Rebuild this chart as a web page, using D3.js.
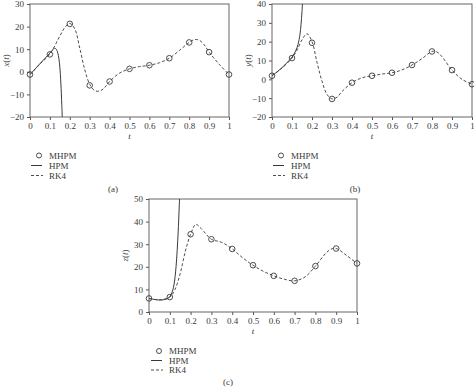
<!DOCTYPE html>
<html><head><meta charset="utf-8">
<script src="https://cdn.jsdelivr.net/npm/d3@7"></script>
<style>
html,body{margin:0;padding:0;background:#fff;}
svg{display:block;font-family:"Liberation Serif","DejaVu Serif",serif;}
</style></head>
<body><svg id="c" width="474" height="390"></svg>
<script>
const tTicks = [0,0.1,0.2,0.3,0.4,0.5,0.6,0.7,0.8,0.9,1];
const tTickLabels = ["0","0.1","0.2","0.3","0.4","0.5","0.6","0.7","0.8","0.9","1"];
const mhpmT = [0,0.1,0.2,0.3,0.4,0.5,0.6,0.7,0.8,0.9,1];

// panel (a) x(t)
const xMHPM = [-1.2,7.7,21.2,-6.0,-4.3,1.3,2.9,6.0,13.0,8.7,-1.2];
const xRK4T = [0,0.05,0.1,0.15,0.175,0.2,0.225,0.25,0.275,0.3,0.325,0.35,0.375,0.4,0.45,0.5,0.55,0.6,0.65,0.7,0.75,0.8,0.825,0.85,0.875,0.9,0.95,1];
const xRK4  = [-1.2,3.4,7.9,15.8,19.6,21.4,19.0,10.5,1.0,-5.5,-8.3,-8.5,-7.0,-4.3,-0.6,1.3,2.3,2.9,4.0,6.0,9.4,13.0,14.2,14.0,12.0,8.7,3.4,-1.2];
const xHPMT = [0,0.05,0.1,0.11,0.12,0.125,0.13,0.135,0.14,0.145,0.15,0.155,0.16,0.165];
const xHPM  = [-1.2,3.6,8.3,9.4,10.2,10.4,10.2,9.5,8.2,6.0,2.0,-5.0,-15.0,-28.0];

// panel (b) y(t)
const yMHPM = [1.9,11.3,19.4,-10.4,-1.8,1.9,3.5,7.6,14.8,4.9,-2.6];
const yRK4T = [0,0.05,0.1,0.125,0.15,0.175,0.2,0.225,0.25,0.275,0.3,0.325,0.35,0.4,0.45,0.5,0.55,0.6,0.65,0.7,0.75,0.8,0.825,0.85,0.9,0.95,1];
const yRK4  = [1.9,6.0,11.3,15.5,21.0,24.2,20.0,9.0,-1.0,-8.0,-10.4,-9.5,-6.5,-1.8,0.8,1.9,2.8,3.5,5.0,7.6,11.0,14.8,14.5,12.0,4.9,0.0,-2.6];
const yHPMT = [0,0.05,0.1,0.11,0.12,0.13,0.14,0.145,0.15,0.155];
const yHPM  = [1.9,6.2,11.8,13.5,15.5,18.5,24.0,29.0,36.0,45.0];

// panel (c) z(t)
const zMHPM = [6.0,6.6,34.4,32.2,27.9,20.7,16.0,13.8,20.3,28.1,21.5];
const zRK4T = [0,0.05,0.1,0.125,0.15,0.175,0.2,0.225,0.25,0.3,0.35,0.4,0.45,0.5,0.55,0.6,0.65,0.7,0.75,0.8,0.85,0.875,0.9,0.95,1];
const zRK4  = [6.0,5.4,6.6,10.0,17.0,27.0,34.4,38.8,37.0,32.2,30.8,27.9,24.0,20.7,18.0,16.0,14.5,13.8,15.5,20.3,26.0,27.8,28.1,25.0,21.5];
const zHPMT = [0,0.03,0.06,0.09,0.1,0.11,0.12,0.13,0.14,0.145,0.15];
const zHPM  = [6.0,5.5,5.3,6.0,6.8,8.5,12.0,20.0,35.0,46.0,56.0];

const legendNames = ["MHPM","HPM","RK4"];
const panelTags = ["(a)","(b)","(c)"];

const svg = d3.select("#c");
const ink = "#3a3a3a";
const fontSize = 9;

function panel(cfg){
  const {x0,x1,y0,y1,yDomain,yTicks,ylab,mT,mV,rT,rV,hT,hV,leg,tag,id} = cfg;
  const xs = d3.scaleLinear().domain([0,1]).range([x0,x1]);
  const ys = d3.scaleLinear().domain(yDomain).range([y1,y0]);
  const g = svg.append("g");
  g.append("clipPath").attr("id","clip"+id).append("rect")
    .attr("x",x0).attr("y",y0).attr("width",x1-x0).attr("height",y1-y0);

  const xAxis = d3.axisBottom(xs).tickValues(tTicks).tickFormat((d,i)=>tTickLabels[i]).tickSize(3).tickPadding(3);
  const yAxis = d3.axisLeft(ys).tickValues(yTicks).tickFormat(d=> d<0 ? "\u2212"+Math.abs(d) : d).tickSize(3).tickPadding(3);
  const gx = g.append("g").attr("transform",`translate(0,${y1})`).call(xAxis);
  const gy = g.append("g").attr("transform",`translate(${x0},0)`).call(yAxis);
  [gx,gy].forEach(a=>{
    a.select(".domain").remove();
    a.selectAll("line").attr("stroke","#555");
    a.selectAll("text").attr("fill",ink).style("font-size",fontSize+"px").style("font-family","Liberation Serif, serif");
  });
  g.append("rect").attr("x",x0).attr("y",y0).attr("width",x1-x0).attr("height",y1-y0)
    .attr("fill","none").attr("stroke","#666").attr("stroke-width",1);

  const line = d3.line().x(d=>xs(d[0])).y(d=>ys(d[1])).curve(d3.curveCatmullRom.alpha(0.5));
  const rk = rT.map((t,i)=>[t,rV[i]]);
  const hp = hT.map((t,i)=>[t,hV[i]]);
  g.append("path").attr("d",line(hp)).attr("fill","none").attr("stroke",ink).attr("stroke-width",1)
    .attr("clip-path",`url(#clip${id})`);
  g.append("path").attr("d",line(rk)).attr("fill","none").attr("stroke",ink).attr("stroke-width",0.9)
    .attr("stroke-dasharray","3,2").attr("clip-path",`url(#clip${id})`);
  g.selectAll("circle.m").data(mT.map((t,i)=>[t,mV[i]])).join("circle")
    .attr("cx",d=>xs(d[0])).attr("cy",d=>ys(d[1])).attr("r",2.8)
    .attr("fill","none").attr("stroke",ink).attr("stroke-width",0.9);

  // axis labels
  g.append("text").attr("x",(x0+x1)/2).attr("y",y1+22).attr("text-anchor","middle")
    .style("font-size","9px").style("font-style","italic").attr("fill",ink).text("t");
  const yl = g.append("text").attr("transform",`translate(${x0-21},${(y0+y1)/2}) rotate(-90)`)
    .attr("text-anchor","middle").style("font-size","9px").attr("fill",ink);
  yl.append("tspan").style("font-style","italic").text(ylab);
  yl.append("tspan").text("(");
  yl.append("tspan").style("font-style","italic").text("t");
  yl.append("tspan").text(")");

  // legend
  const [lx,ly,dy] = leg;
  const lg = g.append("g").attr("transform",`translate(${lx},${ly})`);
  lg.append("circle").attr("cx",9).attr("cy",0).attr("r",2.5).attr("fill","none").attr("stroke",ink).attr("stroke-width",0.9);
  lg.append("line").attr("x1",1).attr("x2",12).attr("y1",dy).attr("y2",dy).attr("stroke",ink).attr("stroke-width",1);
  lg.append("line").attr("x1",1).attr("x2",13).attr("y1",2*dy).attr("y2",2*dy).attr("stroke",ink).attr("stroke-width",0.9).attr("stroke-dasharray","3,2");
  legendNames.forEach((n,i)=>{
    lg.append("text").attr("x",19).attr("y",i*dy+3).style("font-size","9px").attr("fill",ink).text(n);
  });
  g.append("text").attr("x",tag[0]).attr("y",tag[1]).attr("text-anchor","middle").style("font-size","9px").attr("fill",ink).text(panelTags[id]);
}

panel({id:0,x0:30,x1:229,y0:4,y1:117,yDomain:[-20,30],yTicks:[-20,-10,0,10,20,30],ylab:"x",
  mT:mhpmT,mV:xMHPM,rT:xRK4T,rV:xRK4,hT:xHPMT,hV:xHPM,leg:[30,155.5,10],tag:[113,192]});
panel({id:1,x0:272,x1:472,y0:4,y1:117,yDomain:[-20,40],yTicks:[-20,-10,0,10,20,30,40],ylab:"y",
  mT:mhpmT,mV:yMHPM,rT:yRK4T,rV:yRK4,hT:yHPMT,hV:yHPM,leg:[272,155.5,10],tag:[355,192]});
panel({id:2,x0:149,x1:357,y0:199,y1:312,yDomain:[0,50],yTicks:[0,10,20,30,40,50],ylab:"z",
  mT:mhpmT,mV:zMHPM,rT:zRK4T,rV:zRK4,hT:zHPMT,hV:zHPM,leg:[150,351,9.5],tag:[228,385]});
</script></body></html>
